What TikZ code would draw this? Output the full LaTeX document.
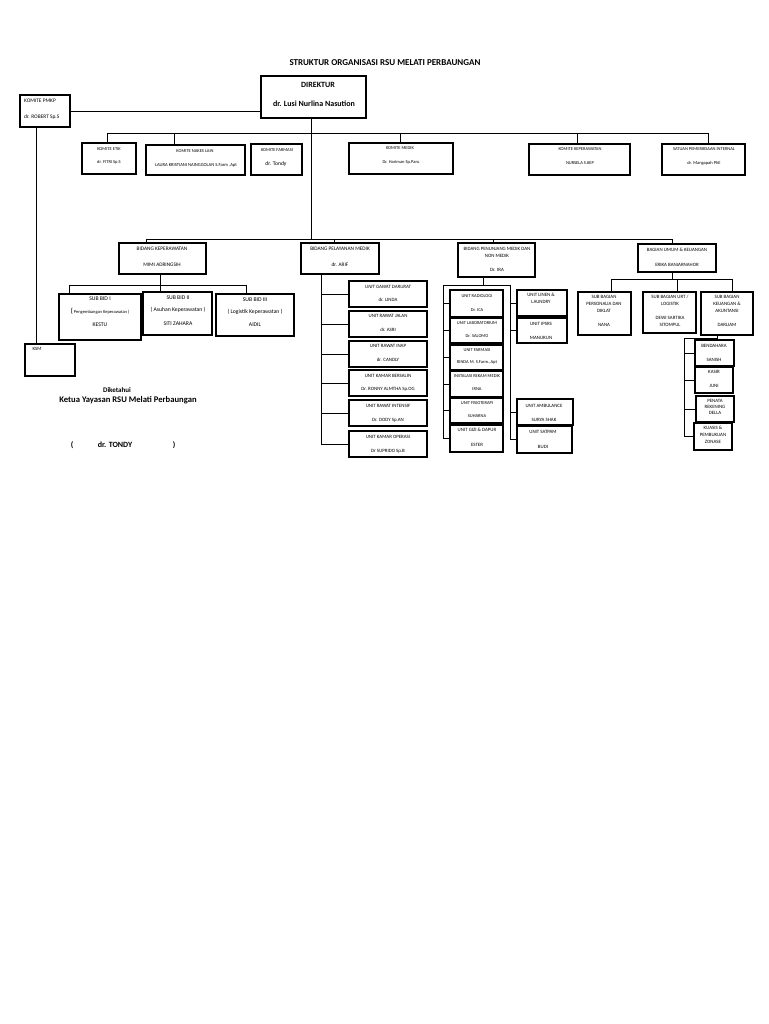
\documentclass[tikz,border=0pt]{standalone}
\usepackage{fontspec}
\setmainfont{Carlito}
\usetikzlibrary{fit}

\begin{document}
\begin{tikzpicture}[x=1pt,y=-1pt,
  box/.style={draw,line width=1.1pt,inner sep=0pt},
  conn/.style={line width=0.9pt},
  tx/.style={inner sep=0pt,font=\fontsize{4.9}{5.5}\selectfont},
  kx/.style={inner sep=0pt,font=\fontsize{4.5}{5}\selectfont},
  dx/.style={inner sep=0pt,font=\fontsize{5.3}{6}\selectfont},
  sx/.style={inner sep=0pt,font=\fontsize{5.7}{6.5}\selectfont},
  bx/.style={inner sep=0pt,font=\bfseries\fontsize{7}{8}\selectfont}]
\useasboundingbox[fill=white] (0,0) rectangle (768,1024);
% title and director
\node[bx,font=\bfseries\fontsize{9}{10}\selectfont] (title) at (385,63) {STRUKTUR ORGANISASI RSU MELATI PERBAUNGAN};
\node[box,fit={(261,76) (366,118)}] (dir) {};
\node[bx,font=\bfseries\fontsize{8}{9}\selectfont] (dir-t1) at (318,85) {DIREKTUR};
\node[bx,font=\bfseries\fontsize{8}{9}\selectfont] (dir-t2) at (314,104) {dr. Lusi Nurlina Nasution};
% komite pmkp and ksm
\node[box,fit={(20,95) (70,127)}] (pmkp) {};
\node[sx,anchor=west,font=\fontsize{5.4}{6}\selectfont] (pmkp-t1) at (24,101) {KOMITE PMKP};
\node[sx,anchor=west,font=\fontsize{5.4}{6}\selectfont] (pmkp-t2) at (24,117) {dr. ROBERT Sp.S};
\node[box,fit={(25,344) (75,376)}] (ksm) {};
\node[tx] (ksm-t1) at (37,349) {KSM};
\draw[conn] (pmkp.east) -- (pmkp.east -| dir.west);
\coordinate (pmkpdrop) at (36,127);
\draw[conn] (pmkpdrop) -- (pmkpdrop |- ksm.north);
% komite row
\coordinate (trunk) at (311,118);
\coordinate (kb1) at (107,133); \coordinate (kb2) at (174,133); \coordinate (kb3) at (400,133);
\coordinate (kb4) at (577,133); \coordinate (kb5) at (708,133);
\draw[conn] (kb1) -- (kb5);
\node[box,fit={(82,143) (136,174)}] (etik) {};
\node[kx] (etik-t1) at (109,149) {KOMITE ETIK};
\node[kx] (etik-t2) at (109,162) {dr. FITRI Sp.S};
\node[box,fit={(146,145) (245,175)}] (nakes) {};
\node[kx] (nakes-t1) at (195,151) {KOMITE NAKES LAIN};
\node[kx,font=\fontsize{4.6}{5}\selectfont] (nakes-t2) at (196,165) {LAURA KRISTIANI NAINGGOLAN S.Farm ,Apt};
\node[box,fit={(251,144) (302,175)}] (farm) {};
\node[kx] (farm-t1) at (277,150) {KOMITE FARMASI};
\node[inner sep=0pt,font=\fontsize{5.6}{6}\selectfont] (farm-t2) at (276,164) {dr. Tondy};
\node[box,fit={(349,143) (453,174)}] (medik) {};
\node[kx] (medik-t1) at (400,148) {KOMITE MEDIK};
\node[kx] (medik-t2) at (401,162) {Dr. Hariman Sp.Paru};
\node[box,fit={(529,144) (630,175)}] (kperw) {};
\node[kx] (kperw-t1) at (580,149) {KOMITE KEPERAWATAN};
\node[kx] (kperw-t2) at (580,163) {NURSELA S.KEP};
\node[box,fit={(662,144) (745,175)}] (spi) {};
\node[kx] (spi-t1) at (704,149) {SATUAN PEMERIKSAAN INTERNAL};
\node[kx] (spi-t2) at (704,163) {dr. Mangapah PhE};
\draw[conn] (kb1) -- (kb1 |- etik.north);
\draw[conn] (kb2) -- (kb2 |- nakes.north);
\draw[conn] (kb3) -- (kb3 |- medik.north);
\draw[conn] (kb4) -- (kb4 |- kperw.north);
\draw[conn] (kb5) -- (kb5 |- spi.north);
% bidang row
\coordinate (bb1) at (146,239); \coordinate (bb2) at (334,239);
\coordinate (bb3) at (493,239); \coordinate (bb4) at (672,239);
\draw[conn] (bb1) -- (bb4);
\draw[conn] (trunk) -- (trunk |- bb1);
\node[box,fit={(119,243) (206,274)}] (bkep) {};
\node[dx] (bkep-t1) at (162,249) {BIDANG KEPERAWATAN};
\node[dx] (bkep-t2) at (162,265) {MIMI ADRINGSIH};
\node[box,fit={(301,243) (379,274)}] (bpm) {};
\node[dx] (bpm-t1) at (340,249) {BIDANG PELAYANAN MEDIK};
\node[dx] (bpm-t2) at (340,265) {dr. ARIF};
\node[box,fit={(458,243) (535,277)}] (bpn) {};
\node[tx] (bpn-t1) at (497,249) {BIDANG PENUNJANG MEDIK DAN};
\node[tx] (bpn-t2) at (497,256) {NON MEDIK};
\node[tx] (bpn-t3) at (497,270) {Dr. IRA};
\node[box,fit={(638,244) (716,272)}] (bum) {};
\node[tx] (bum-t1) at (677,250) {BAGIAN UMUM \& KEUANGAN};
\node[tx] (bum-t2) at (677,265) {ERIKA BANJARNAHOR};
\draw[conn] (bb1) -- (bb1 |- bkep.north);
\draw[conn] (bb2) -- (bb2 |- bpm.north);
\draw[conn] (bb3) -- (bb3 |- bpn.north);
\draw[conn] (bb4) -- (bb4 |- bum.north);
% sub bidang keperawatan
\coordinate (sb1) at (69,285); \coordinate (sb2) at (160,285); \coordinate (sb3) at (246,285);
\draw[conn] (sb1) -- (sb3);
\draw[conn] (sb2) -- (sb2 |- bkep.south);
\node[box,fit={(59,294) (141,340)}] (sbid1) {};
\node[sx] (sbid1-t1) at (100,299) {SUB BID I};
\node[kx] (sbid1-t2) at (100,311) {{\fontsize{7.5}{8}\selectfont(} Pengembangan Keperawatan )};
\node[sx] (sbid1-t3) at (100,325) {KESTU};
\node[box,fit={(143,292) (212,335)}] (sbid2) {};
\node[sx] (sbid2-t1) at (178,298) {SUB BID II};
\node[sx] (sbid2-t2) at (178,310) {( Asuhan Keperawatan )};
\node[sx] (sbid2-t3) at (178,324) {SITI ZAHARA};
\node[box,fit={(216,294) (294,336)}] (sbid3) {};
\node[sx] (sbid3-t1) at (255,300) {SUB BID III};
\node[sx] (sbid3-t2) at (255,312) {( Logistik Keperawatan )};
\node[sx] (sbid3-t3) at (255,325) {AIDIL};
\draw[conn] (sb1) -- (sb1 |- sbid1.north);
\draw[conn] (sb2) -- (sb2 |- sbid2.north);
\draw[conn] (sb3) -- (sb3 |- sbid3.north);
% unit pelayanan medik
\node[box,fit={(349,281) (427,307)}] (pm1) {};
\node[tx] (pm1-t1) at (388,287) {\itshape UNIT GAWAT DARURAT};
\node[tx] (pm1-t2) at (388,300) {dr. LINDA};
\node[box,fit={(349,311) (427,337)}] (pm2) {};
\node[tx] (pm2-t1) at (388,316) {UNIT RAWAT JALAN};
\node[tx] (pm2-t2) at (388,330) {dr. ASRI};
\node[box,fit={(349,341) (427,367)}] (pm3) {};
\node[tx] (pm3-t1) at (388,346) {UNIT RAWAT INAP};
\node[tx] (pm3-t2) at (388,360) {dr. CANDLY};
\node[box,fit={(349,370) (427,396)}] (pm4) {};
\node[tx] (pm4-t1) at (388,376) {UNIT KAMAR BERSALIN};
\node[tx] (pm4-t2) at (388,389) {Dr. RONNY ALMTHA Sp.OG};
\node[box,fit={(349,400) (427,426)}] (pm5) {};
\node[tx] (pm5-t1) at (388,406) {UNIT RAWAT INTENSIF};
\node[tx] (pm5-t2) at (388,420) {Dr. DODY Sp.AN};
\node[box,fit={(349,431) (427,457)}] (pm6) {};
\node[tx] (pm6-t1) at (388,437) {UNIT KAMAR OPERASI};
\node[tx] (pm6-t2) at (388,451) {Dr SUPRIDO Sp.B};
\coordinate (pm0) at (321,274);
\draw[conn] (pm0) -- (pm0 |- pm6.west);
\draw[conn] (pm0 |- pm1.west) -- (pm1.west);
\draw[conn] (pm0 |- pm2.west) -- (pm2.west);
\draw[conn] (pm0 |- pm3.west) -- (pm3.west);
\draw[conn] (pm0 |- pm4.west) -- (pm4.west);
\draw[conn] (pm0 |- pm5.west) -- (pm5.west);
\draw[conn] (pm0 |- pm6.west) -- (pm6.west);
% unit penunjang medik
\node[box,fit={(450,290) (503,317)}] (pn1) {};
\node[kx] (pn1-t1) at (477,296) {UNIT RADIOLOGI};
\node[kx] (pn1-t2) at (477,310) {Dr. ICA};
\node[box,fit={(450,318) (503,343)}] (pn2) {};
\node[kx] (pn2-t1) at (477,323) {UNIT LABORATORIUM};
\node[kx] (pn2-t2) at (477,336) {Dr. SALOMO};
\node[box,fit={(450,345) (503,370)}] (pn3) {};
\node[kx] (pn3-t1) at (477,350) {UNIT FARMASI};
\node[kx] (pn3-t2) at (477,362) {RINDA M. S.Farm.,Apt};
\node[box,fit={(450,371) (503,397)}] (pn4) {};
\node[kx] (pn4-t1) at (477,376) {INSTALASI REKAM MEDIK};
\node[kx] (pn4-t2) at (477,389) {IRNA};
\node[box,fit={(450,398) (503,423)}] (pn5) {};
\node[kx] (pn5-t1) at (477,403) {UNIT FISIOTERAPI};
\node[kx] (pn5-t2) at (477,416) {SUHARNA};
\node[box,fit={(450,425) (503,452)}] (pn6) {};
\node[tx] (pn6-t1) at (477,430) {UNIT GIZI \& DAPUR};
\node[tx] (pn6-t2) at (477,445) {ESTER};
\node[box,fit={(517,290) (567,316)}] (pr1) {};
\node[tx] (pr1-t1) at (541,295) {UNIT LINEN \&};
\node[tx] (pr1-t2) at (541,302) {LAUNDRY};
\node[box,fit={(517,318) (567,343)}] (pr2) {};
\node[tx] (pr2-t1) at (541,324) {UNIT IPSRS};
\node[tx] (pr2-t2) at (541,338) {MANURUN};
\node[box,fit={(517,399) (573,425)}] (pr3) {};
\node[tx] (pr3-t1) at (544,406) {UNIT AMBULANCE};
\node[tx] (pr3-t2) at (544,420) {SURYA SHAK};
\node[box,fit={(517,426) (572,453)}] (pr4) {};
\node[tx] (pr4-t1) at (543,432) {UNIT SATPAM};
\node[tx] (pr4-t2) at (543,447) {BUDI};
\coordinate (pnL) at (443,285); \coordinate (pnM) at (483,285); \coordinate (pnR) at (510,285);
\draw[conn] (pnM) -- (pnM |- bpn.south);
\draw[conn] (pnL |- pn6.west) -- (pnL) -- (pnR) -- (pnR |- pr4.west);
\draw[conn] (pnL |- pn1.west) -- (pn1.west);
\draw[conn] (pnL |- pn2.west) -- (pn2.west);
\draw[conn] (pnL |- pn3.west) -- (pn3.west);
\draw[conn] (pnL |- pn4.west) -- (pn4.west);
\draw[conn] (pnL |- pn5.west) -- (pn5.west);
\draw[conn] (pnL |- pn6.west) -- (pn6.west);
\draw[conn] (pnR |- pr1.west) -- (pr1.west);
\draw[conn] (pnR |- pr2.west) -- (pr2.west);
\draw[conn] (pnR |- pr3.west) -- (pr3.west);
\draw[conn] (pnR |- pr4.west) -- (pr4.west);
% sub bagian umum dan keuangan
\coordinate (su0) at (611,279); \coordinate (suM) at (677,279); \coordinate (suR) at (732,279);
\draw[conn] (su0) -- (suR);
\draw[conn] (bb4 |- bum.south) -- (bb4 |- su0);
\node[box,fit={(578,292) (631,335)}] (sub1) {};
\node[tx] (sub1-t1) at (604,297) {SUB BAGIAN};
\node[tx] (sub1-t2) at (604,304) {PERSONALIA DAN};
\node[tx] (sub1-t3) at (604,311) {DIKLAT};
\node[tx] (sub1-t4) at (604,325) {NANA};
\node[box,fit={(643,292) (696,333)}] (sub2) {};
\node[tx] (sub2-t1) at (670,297) {SUB BAGIAN URT /};
\node[tx] (sub2-t2) at (670,304) {LOGISTIK};
\node[tx] (sub2-t3) at (670,318) {DEWI SARTIKA};
\node[tx] (sub2-t4) at (670,325) {SITOMPUL};
\node[box,fit={(701,292) (753,335)}] (sub3) {};
\node[tx] (sub3-t1) at (727,297) {SUB BAGIAN};
\node[tx] (sub3-t2) at (727,304) {KEUANGAN \&};
\node[tx] (sub3-t3) at (727,311) {AKUNTANSI};
\node[tx] (sub3-t4) at (727,325) {DARLIAM};
\draw[conn] (su0) -- (su0 |- sub1.north);
\draw[conn] (suM) -- (suM |- sub2.north);
\draw[conn] (suR) -- (suR |- sub3.north);
\node[box,fit={(695,340) (734,366)}] (keu1) {};
\node[tx] (keu1-t1) at (714,346) {BENDAHARA};
\node[tx] (keu1-t2) at (714,360) {SANISH};
\node[box,fit={(695,367) (733,393)}] (keu2) {};
\node[tx] (keu2-t1) at (714,372) {KASIR};
\node[tx] (keu2-t2) at (714,386) {JUNI};
\node[box,fit={(696,396) (734,422)}] (keu3) {};
\node[tx] (keu3-t1) at (715,401) {PENATA};
\node[tx] (keu3-t2) at (715,407) {REKENING};
\node[tx] (keu3-t3) at (715,413) {DELLA};
\node[box,fit={(694,423) (732,450)}] (keu4) {};
\node[tx] (keu4-t1) at (713,428) {KUASIS \&};
\node[tx] (keu4-t2) at (713,435) {PEMBUKUAN};
\node[tx] (keu4-t3) at (713,442) {ZONASE};
\coordinate (ku0) at (717,335); \coordinate (kuL) at (684,338);
\draw[conn] (ku0) -- (ku0 |- kuL) -- (kuL) -- (kuL |- keu4.west);
\draw[conn] (kuL |- keu1.west) -- (keu1.west);
\draw[conn] (kuL |- keu2.west) -- (keu2.west);
\draw[conn] (kuL |- keu3.west) -- (keu3.west);
\draw[conn] (kuL |- keu4.west) -- (keu4.west);
% pengesahan
\node[bx] (sah-t1) at (117,390) {Diketahui};
\node[bx,font=\bfseries\fontsize{8.6}{9}\selectfont] (sah-t2) at (128,400) {Ketua Yayasan RSU Melati Perbaungan};
\node[bx,font=\bfseries\fontsize{8}{9}\selectfont] (sah-t3) at (72,445) {(};
\node[bx,font=\bfseries\fontsize{8}{9}\selectfont] (sah-t4) at (115,445) {dr. TONDY};
\node[bx,font=\bfseries\fontsize{8}{9}\selectfont] (sah-t5) at (174,445) {)};
\end{tikzpicture}
\end{document}
